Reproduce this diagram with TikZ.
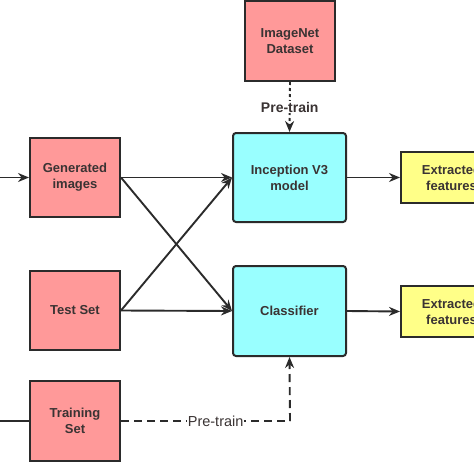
\documentclass[tikz,border=0pt]{standalone}
\usepackage{fontspec}
\setmainfont{Liberation Sans}
\usetikzlibrary{arrows.meta}
\definecolor{pinkbox}{HTML}{FF9999}
\definecolor{cyanbox}{HTML}{99FFFF}
\definecolor{yellowbox}{HTML}{FFFF88}
\definecolor{edge}{HTML}{2B2B2B}
\definecolor{txt}{HTML}{3A3333}
\tikzset{
  box/.style={draw=edge, line width=2pt, inner sep=0pt, align=center,
    text=txt, font=\fontsize{13}{16}\selectfont\bfseries},
  databox/.style={box, fill=pinkbox, minimum width=90pt},
  modelbox/.style={box, fill=cyanbox, rounded corners=3pt, minimum width=113pt, minimum height=89pt},
  featbox/.style={box, fill=yellowbox, minimum width=101pt, minimum height=51pt},
  conn/.style={draw=edge, line width=1.9pt},
  arr/.style={conn, -{Stealth[length=11pt,width=9pt]}},
  lbl/.style={fill=white, inner sep=1pt, text=txt}
}
\begin{document}
\begin{tikzpicture}[x=1pt,y=1pt]
\useasboundingbox (0,0) rectangle (474,-474);
\clip (0,0) rectangle (474,-474);
% data boxes
\node[databox, minimum height=80pt] (imnet) at (290,-41) {ImageNet\\Dataset};
\node[databox, minimum height=79pt] (gen) at (75,-177.5) {Generated\\images};
\node[databox, minimum height=79pt] (test) at (75,-310.5) {Test Set};
\node[databox, minimum height=80pt] (train) at (75,-421) {Training\\Set};
% model boxes
\node[modelbox] (incep) at (289.5,-177.5) {Inception V3\\model};
\node[modelbox, minimum height=90pt] (clf) at (289.5,-311) {Classifier};
% feature boxes
\node[featbox] (feat1) at (451.5,-177.5) {Extracted\\features};
\node[featbox] (feat2) at (451.5,-311.5) {Extracted\\features};
% free ends
\coordinate (in1) at (0,-177.5);
\coordinate (in2) at (0,-421);
\coordinate (bend) at (290,-421);
% connectors
\draw[arr] (in1) -- (gen.west);
\draw[conn] (in2) -- (train.west);
\draw[arr] (gen.east) -- (incep.west);
\draw[arr] (gen.east) -- (clf.west);
\draw[arr] (test.east) -- (clf.west);
\draw[arr] (test.east) -- (incep.west);
\draw[arr] (incep.east) -- (feat1.west);
\draw[arr] (clf.east) -- (feat2.west);
\draw[arr, dash pattern=on 3pt off 3pt] (imnet.south) -- node[lbl, font=\fontsize{14}{16}\selectfont\bfseries] (pt1) {Pre-train} (incep.north);
\draw[conn, dash pattern=on 8pt off 5pt] (train.east) -- node[lbl, pos=0.56, font=\fontsize{14.5}{16}\selectfont] (pt2) {Pre-train} (bend);
\draw[arr, dash pattern=on 8pt off 5pt] (bend) -- (clf.south);
\end{tikzpicture}
\end{document}
